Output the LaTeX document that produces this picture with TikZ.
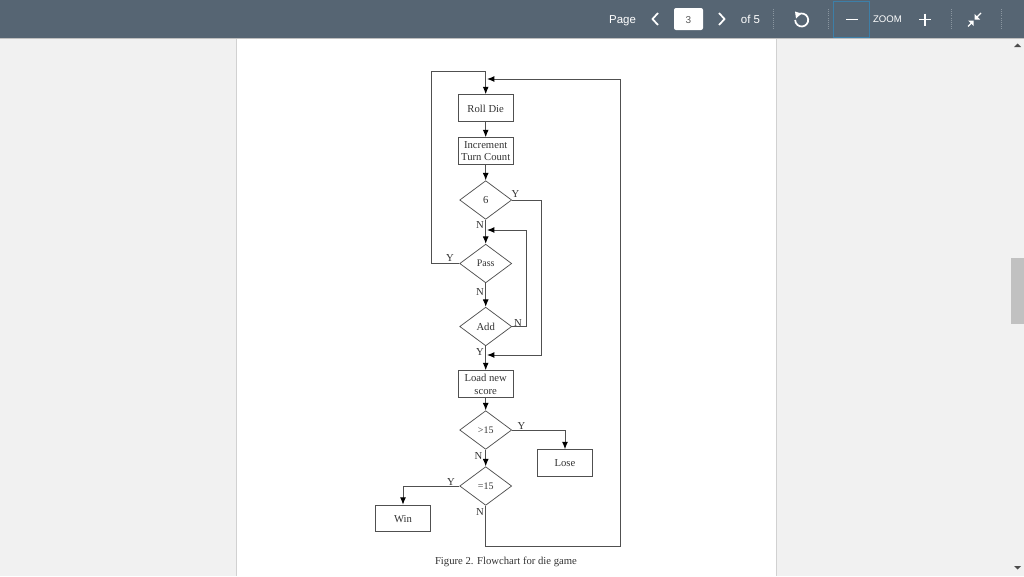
\documentclass[tikz,border=0pt]{standalone}
\usepackage{fontspec}
\setmainfont{Liberation Serif}
\newfontfamily\uifont{Liberation Sans}
\usetikzlibrary{shapes.geometric,arrows.meta}
\definecolor{barcol}{HTML}{566573}
\definecolor{pagebg}{HTML}{F1F1F1}
\definecolor{inkcol}{HTML}{333333}
\definecolor{flowline}{HTML}{505050}
\definecolor{focuscol}{HTML}{3D7FA8}
\definecolor{thumbcol}{HTML}{C1C1C1}
\definecolor{sepcol}{HTML}{8A96A0}
\tikzset{
  x=0.75pt,y=-0.75pt,
  boxnode/.style={draw=flowline,line width=0.7pt,rectangle,minimum width=41pt,minimum height=20pt,inner sep=0pt,align=center,text=inkcol,font=\fontsize{8}{9.6}\selectfont,text depth=0pt},
  decnode/.style={draw=flowline,line width=0.55pt,diamond,aspect=1.37,minimum width=39pt,minimum height=29pt,inner sep=0pt,text=inkcol,font=\fontsize{7.5}{9}\selectfont},
  flow/.style={draw=flowline,line width=0.7pt},
  flowarrow/.style={flow,-{Latex[length=5.5pt,width=4.4pt,black]}},
  lab/.style={inner sep=0pt,text=inkcol,font=\fontsize{8}{9.6}\selectfont},
  uitext/.style={inner sep=0pt,text=white,font=\uifont\fontsize{8.6}{10}\selectfont},
  uiicon/.style={draw=white,line width=1.1pt},
  sepline/.style={draw=sepcol,line width=0.6pt,dash pattern=on 0.8pt off 0.8pt},
}
\begin{document}
\begin{tikzpicture}
\useasboundingbox (0,0) rectangle (1024,576);
% page
\fill[pagebg] (0,0) rectangle (1024,576);
\fill[white] (237,38) rectangle (776,576);
\draw[draw=black!18,line width=0.6pt] (236.5,38) -- (236.5,576) (776.5,38) -- (776.5,576);
% scrollbar
\fill[thumbcol] (1011,258) rectangle (1024,324);
\fill[black!70] (1014,47) -- (1021,47) -- (1017.5,43.5) -- cycle;
\fill[black!70] (1014,566) -- (1021,566) -- (1017.5,569.5) -- cycle;
% toolbar
\fill[barcol] (0,0) rectangle (1024,38);
\draw[draw=black!25,line width=0.6pt] (0,38.5) -- (1024,38.5);
\node[uitext,anchor=base] (pagelabel) at (622.5,23) {Page};
\draw[uiicon,line width=1.3pt] (658,13) -- (652.5,19) -- (658,25);
\fill[white,rounded corners=1.5pt] (674,8) rectangle (703,30);
\node[uitext,anchor=base,text=black!65,font=\uifont\fontsize{7.5}{9}\selectfont] (pagenum) at (688.5,23) {3};
\draw[uiicon,line width=1.3pt] (719,13) -- (724.5,19) -- (719,25);
\node[uitext,anchor=base] (oflabel) at (750.5,23) {of 5};
\draw[sepline] (773.5,9) -- (773.5,30);
\draw[uiicon,line width=1.3pt] (796.7,15.8) arc[start angle=-140,end angle=180,radius=6.5];
\fill[white] (795,11.5) -- (801.5,13.5) -- (796,18.5) -- cycle;
\draw[sepline] (828.5,9) -- (828.5,30);
\draw[draw=focuscol,line width=0.6pt] (833.5,1.5) rectangle (869.5,37.5);
\draw[uiicon] (846,19.5) -- (858,19.5);
\node[uitext,anchor=base,font=\uifont\fontsize{7.2}{9}\selectfont] (zoomlabel) at (887.5,22.5) {ZOOM};
\draw[uiicon] (919,19.5) -- (931,19.5) (925,13.5) -- (925,25.5);
\draw[sepline] (951.5,9) -- (951.5,30);
\draw[draw=white,line width=0.9pt] (968,26.5) -- (972,22.5) (976,18) -- (981,13);
\fill[white] (973.5,20.5) -- (973.5,26) -- (968,20.5) -- cycle;
\fill[white] (974.5,19.5) -- (974.5,14) -- (980,19.5) -- cycle;
\draw[sepline] (1001.5,9) -- (1001.5,30);
% nodes
\node[boxnode] (roll) at (485.7,108) {\raisebox{-0.6pt}{Roll Die}};
\node[boxnode] (incr) at (485.7,151) {Increment\\Turn Count};
\node[decnode,font=\fontsize{8}{9.6}\selectfont] (six) at (485.7,200) {6};
\node[decnode] (pass) at (485.7,263.5) {Pass};
\node[decnode,font=\fontsize{8}{9.6}\selectfont] (add) at (485.7,326.5) {Add};
\node[boxnode] (load) at (485.7,384) {Load new\\score};
\node[decnode] (gt) at (485.7,430) {>15};
\node[decnode] (eq) at (485.7,486) {=15};
\node[boxnode] (lose) at (565,463) {\raisebox{-0.6pt}{Lose}};
\node[boxnode] (win) at (403,518.5) {\raisebox{-0.6pt}{Win}};
% junctions
\coordinate (jtop) at (485.7,71);
\coordinate (jback) at (487,79);
\coordinate (jadd) at (487,230);
\coordinate (jsix) at (487,355);
% connectors
\draw[flowarrow] (jtop) -- (roll.north);
\draw[flowarrow] (roll) -- (incr);
\draw[flowarrow] (incr) -- (six);
\draw[flowarrow] (six) -- (pass);
\draw[flowarrow] (pass) -- (add);
\draw[flowarrow] (add) -- (load);
\draw[flowarrow] (load) -- (gt);
\draw[flowarrow] (gt) -- (eq);
\draw[flowarrow] (gt.east) -| (lose.north);
\draw[flowarrow] (eq.west) -| (win.north);
\draw[flow] (pass.west) -| (431,71) -- (jtop);
\draw[flowarrow] (six.east) -| (541.5,355) -- (jsix);
\draw[flowarrow] (add.east) -| (526,230) -- (jadd);
\draw[flowarrow] (eq.south) |- (620.5,546.5) |- (jback);
% labels
\node[lab] (l1) at (515.5,194.5) {Y};
\node[lab] (l2) at (480,225) {N};
\node[lab] (l3) at (450,258) {Y};
\node[lab] (l4) at (480,291.5) {N};
\node[lab] (l5) at (518,323) {N};
\node[lab] (l6) at (480,351.5) {Y};
\node[lab] (l7) at (521.5,425.5) {Y};
\node[lab] (l8) at (478.5,456) {N};
\node[lab] (l9) at (451,481.5) {Y};
\node[lab] (l10) at (480,511.5) {N};
\node[lab] (caption) at (506,562) {Figure 2. Flowchart for die game};
\end{tikzpicture}
\end{document}
